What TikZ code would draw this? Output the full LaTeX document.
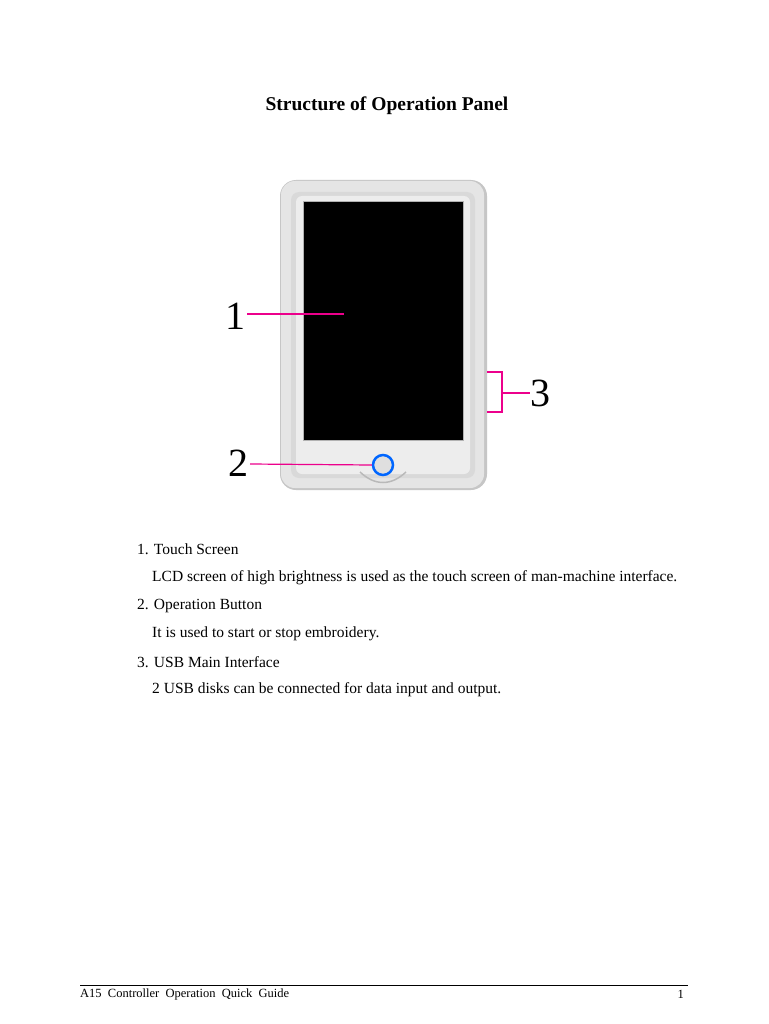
\documentclass[tikz,border=0pt]{standalone}
\usepackage{fontspec}
\setmainfont{Liberation Serif}
\begin{document}
\begin{tikzpicture}[x=1pt,y=-1pt,
  txt/.style={anchor=west,inner sep=0pt,font=\fontsize{15.5}{17}\selectfont},
  lbl/.style={inner sep=0pt,font=\fontsize{40}{44}\selectfont},
  lead/.style={draw=magenta,line width=1.2pt}]
\useasboundingbox[fill=white] (0,0) rectangle (768,1024);
\node[font=\fontsize{19.5}{22}\selectfont\bfseries] (title) at (387,106) {Structure of Operation Panel};
% device
\fill[gray!45,rounded corners=16pt] (280,180) rectangle (487,490);
\fill[gray!20,rounded corners=14pt] (281,181) rectangle (484,488);
\fill[gray!30,rounded corners=8pt] (291,192) rectangle (475,478);
\fill[gray!14,rounded corners=6pt] (296,196) rectangle (470,474);
\node[fill=black,minimum width=160pt,minimum height=238pt,inner sep=0pt,draw=gray!60,line width=1pt] (screen) at (383,321) {};
\draw[gray!55,line width=1.5pt] (360,472) .. controls (375,486) and (391,486) .. (406,472);
\node[circle,draw=blue!60!cyan,line width=2.5pt,fill=gray!25,minimum size=20pt,inner sep=0pt] (btn) at (383,465) {};
% labels
\node[lbl] (l1) at (235,316) {1};
\node[lbl] (l2) at (238,463) {2};
\node[lbl] (l3) at (540,393) {3};
\coordinate (p1) at (344,314);
\coordinate (s1) at (247,314);
\coordinate (s2) at (250,464);
\draw[lead] (s1) -- (p1);
\draw[lead] (s2) -- (btn.west);
\coordinate (ba) at (487,372); \coordinate (bb) at (487,412);
\draw[lead] (ba) -- (502,372) -- (502,412) -- (bb);
\draw[lead] (502,393) -- (l3.west);
% list
\node[txt] (t1) at (137,549) {1. Touch Screen};
\node[txt] (t1b) at (152,578) {LCD screen of high brightness is used as the touch screen of man-machine interface.};
\node[txt] (t2) at (137,606) {2. Operation Button};
\node[txt] (t2b) at (152,634) {It is used to start or stop embroidery.};
\node[txt] (t3) at (137,662) {3. USB Main Interface};
\node[txt] (t3b) at (152,690) {2 USB disks can be connected for data input and output.};
% footer
\draw[line width=0.8pt] (80,985) -- (688,985);
\node[anchor=west,inner sep=0pt,font=\fontsize{12.5}{13}\selectfont] (ft) at (80,994) {A15\ \ Controller\ \ Operation\ \ Quick\ \ Guide};
\node[anchor=east,inner sep=0pt,font=\fontsize{12.5}{13}\selectfont] (pg) at (684,994) {1};
\end{tikzpicture}
\end{document}
